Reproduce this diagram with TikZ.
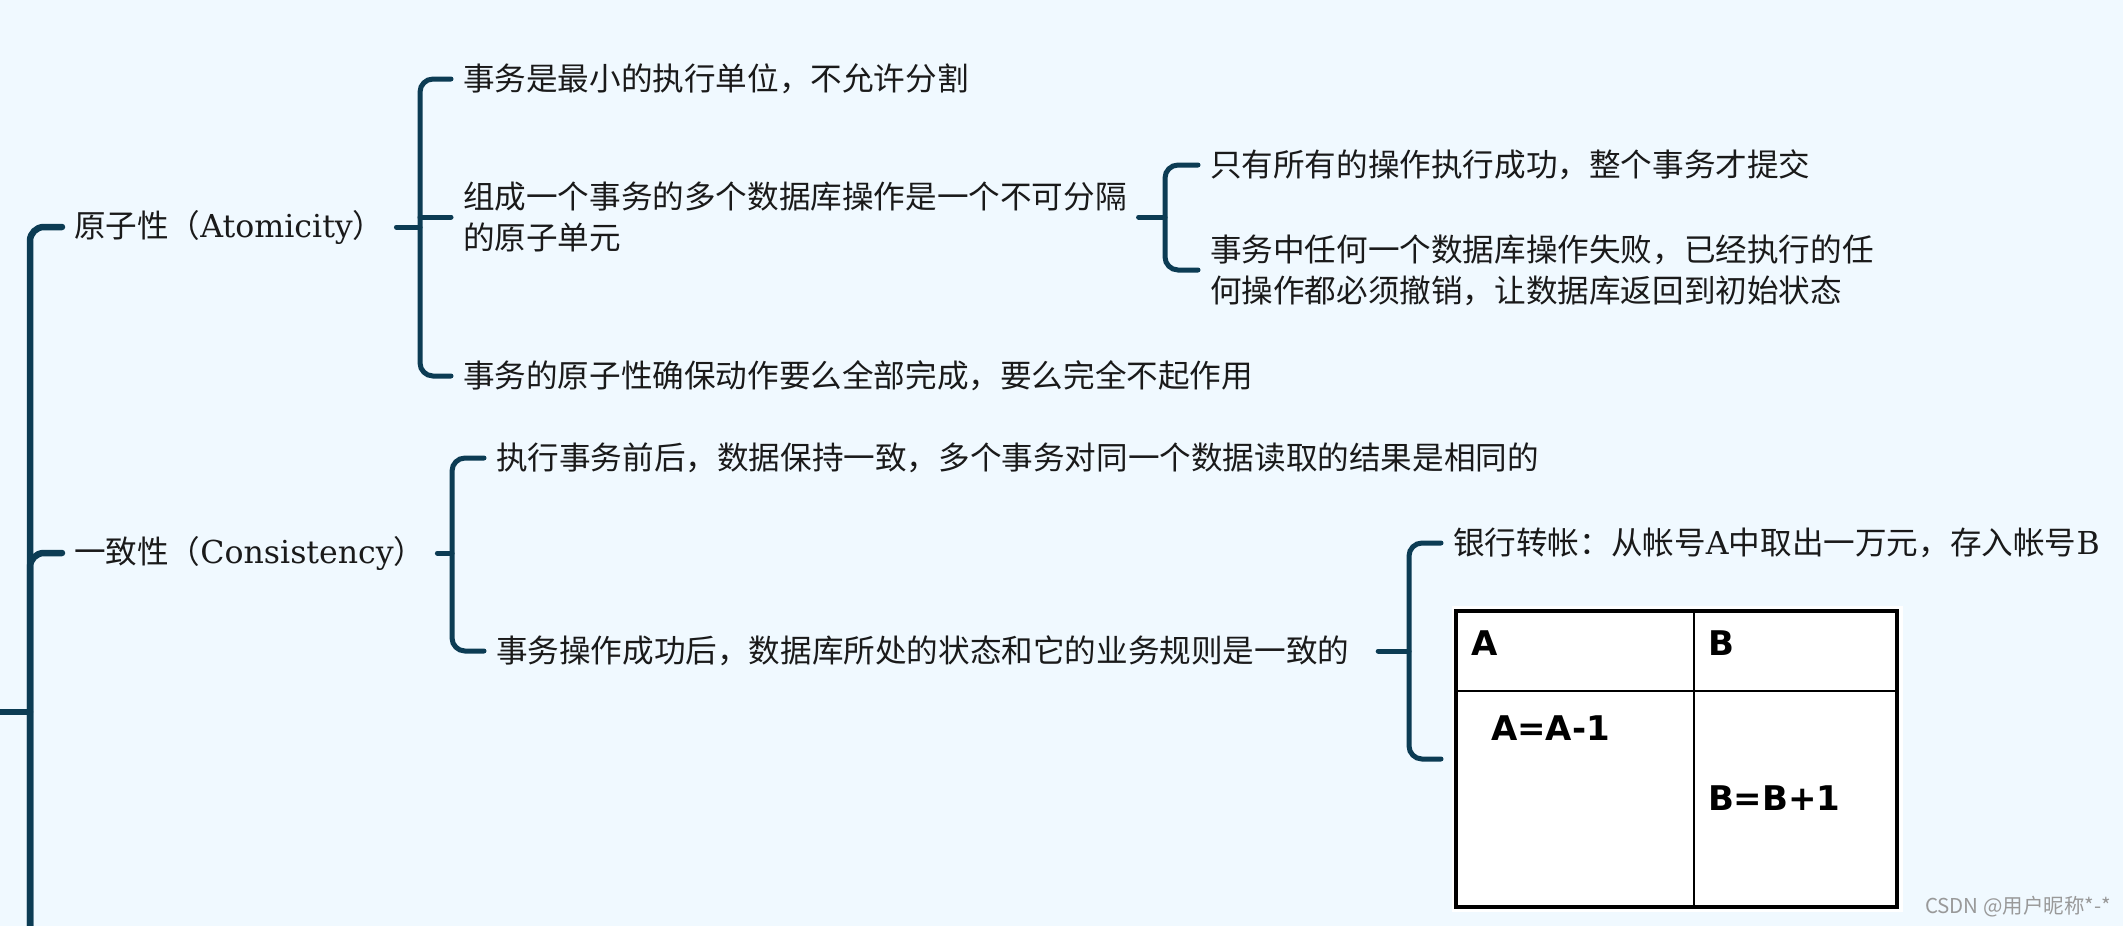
\documentclass[tikz,border=0pt]{standalone}
\usepackage{fontspec}
\setmainfont{DejaVu Serif}
\newfontfamily\cjk{Noto Sans CJK SC}
\newfontfamily\tabfont{DejaVu Sans}
\usetikzlibrary{positioning}
\definecolor{bg}{RGB}{240,249,255}
\definecolor{branch}{RGB}{12,60,84}
\definecolor{ink}{RGB}{26,26,26}

\begin{document}
\begin{tikzpicture}[
    x = 1pt, y = 1pt,
    every node/.style = {align=left, anchor=west, inner sep=0pt, outer xsep=12pt,
      text=ink, font=\cjk\fontsize{31.6}{41}\selectfont},
    main/.style = {draw=branch, line width=6.5pt, line cap=round, rounded corners=14pt},
    br/.style = {draw=branch, line width=5pt, line cap=round, rounded corners=13pt},
    cell/.style = {outer xsep=0pt, text=black, font=\tabfont\bfseries\fontsize{34}{40}\selectfont}
  ]

  \fill[bg] (0,0) rectangle (2123,-926);
  \useasboundingbox (0,0) rectangle (2123,-926);

  \node (A) at (62,-227) {原子性（\textrm{Atomicity}）};
  \node (B) at (62,-553) {一致性（\textrm{Consistency}）};

  \node (A1) at (451,-79) {事务是最小的执行单位，不允许分割};
  \node (A2) at (451,-217) {组成一个事务的多个数据库操作是一个不可分隔\\的原子单元};
  \node (A3) at (451,-376) {事务的原子性确保动作要么全部完成，要么完全不起作用};
  \node (A21) at (1198,-165) {只有所有的操作执行成功，整个事务才提交};
  \node (A22) at (1198,-270) {事务中任何一个数据库操作失败，已经执行的任\\何操作都必须撤销，让数据库返回到初始状态};

  \node (B1) at (484,-458) {执行事务前后，数据保持一致，多个事务对同一个数据读取的结果是相同的};
  \node (B2) at (484,-651) {事务操作成功后，数据库所处的状态和它的业务规则是一致的};
  \node (B21) at (1441,-543) {银行转帐：从帐号\textrm{A}中取出一万元，存入帐号\textrm{B}};

  \fill[white] (1452,-606) rectangle (1903,-912);
  \node (T) [draw=black, fill=white, line width=4.5pt, outer xsep=15pt,
    minimum width=441pt, minimum height=296pt] at (1441,-759) {};
  \draw[line width=1.6pt] (1694,-611) -- (1694,-907) (1458,-691) -- (1899,-691);
  \node[cell] (TA) at (1471,-643) {A};
  \node[cell] (TB) at (1708,-643) {B};
  \node[cell] (TA1) at (1491,-728) {A=A-1};
  \node[cell] (TB1) at (1708,-798) {B=B+1};

  \node[anchor=east, outer xsep=0pt, text=black!40,
    font=\cjk\fontsize{20.5}{24}\selectfont] (W) at (2111,-907) {CSDN @用户昵称*-*};

  \coordinate (E) at (30,-940);
  \coordinate (R) at (0,-712);
  \draw[main] (A.west) -| (E);
  \draw[main] (B.west) -| (E);
  \draw[main] (R) -- (R -| E);

  \draw[br] (A.east) -- ([xshift=-31]A1.west |- A.east);
  \draw[br] (A1.west) -- ++(-31,0) |- (A3.west);
  \draw[br] (A2.west) -- ++(-31,0);

  \draw[br] (A2.east) -- ([xshift=-33]A21.west |- A2.east);
  \draw[br] (A21.west) -- ++(-33,0) |- (A22.west);

  \draw[br] (B.east) -- ([xshift=-32]B1.west |- B.east);
  \draw[br] (B1.west) -- ++(-32,0) |- (B2.west);

  \draw[br] ([xshift=17]B2.east) -- ([xshift=-32]B21.west |- B2.east);
  \draw[br] (B21.west) -- ++(-32,0) |- (T.west);

\end{tikzpicture}
\end{document}
